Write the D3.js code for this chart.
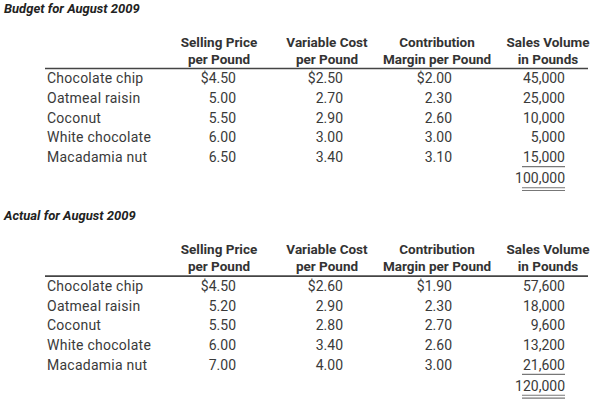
<!DOCTYPE html>
<html>
<head>
<meta charset="utf-8">
<script src="https://cdn.jsdelivr.net/npm/d3@7"></script>
<style>
  body { margin: 0; background: #fff; }
  text { font-family: Roboto, "Liberation Sans", sans-serif; }
</style>
</head>
<body>
<script>
// cookie products, same for both tables
const products = ["Chocolate chip", "Oatmeal raisin", "Coconut", "White chocolate", "Macadamia nut"];
const columns = ["price", "cost", "margin", "volume"];
const headers = [["Selling Price", "per Pound"], ["Variable Cost", "per Pound"],
                 ["Contribution", "Margin per Pound"], ["Sales Volume", "in Pounds"]];

// budget for August 2009
const budgetPrice  = [4.50, 5.00, 5.50, 6.00, 6.50];
const budgetCost   = [2.50, 2.70, 2.90, 3.00, 3.40];
const budgetMargin = [2.00, 2.30, 2.60, 3.00, 3.10];
const budgetVolume = [45000, 25000, 10000, 5000, 15000];
const budgetTotal  = 100000;

// actual for August 2009
const actualPrice  = [4.50, 5.20, 5.50, 6.00, 7.00];
const actualCost   = [2.60, 2.90, 2.80, 3.40, 4.00];
const actualMargin = [1.90, 2.30, 2.70, 2.60, 3.00];
const actualVolume = [57600, 18000, 9600, 13200, 21600];
const actualTotal  = 120000;

const svg = d3.select("body").append("svg")
    .attr("width", 594)
    .attr("height", 404);

// right edge of each number column, and centre of each header
const xRight  = d3.scaleOrdinal().domain(columns).range([236, 343, 452, 565]);
const xCenter = d3.scaleOrdinal().domain(columns).range([219, 327, 437, 548]);
const y = d3.scalePoint().domain(products).range([0, 79]);

const money = d3.format(".2f");
const vol = d3.format(",");

function drawTable(top, title, price, cost, margin, volume, total) {
  const g = svg.append("g").attr("transform", `translate(0,${top})`);

  g.append("text")
    .attr("x", 4).attr("y", 0)
    .attr("font-size", 13).attr("font-weight", "bold").attr("font-style", "italic")
    .attr("fill", "#222")
    .text(title);

  // two-line column headers
  const head = g.append("g").selectAll("text")
    .data(columns)
    .enter().append("text")
    .attr("x", d => xCenter(d))
    .attr("text-anchor", "middle")
    .attr("font-size", 13.5).attr("font-weight", "bold")
    .attr("fill", "#333");
  head.append("tspan").attr("x", d => xCenter(d)).attr("y", 34).text((d, i) => headers[i][0]);
  head.append("tspan").attr("x", d => xCenter(d)).attr("y", 51).text((d, i) => headers[i][1]);

  g.append("line")
    .attr("x1", 45).attr("x2", 588)
    .attr("y1", 55.8).attr("y2", 55.8)
    .attr("stroke", "#444").attr("stroke-width", 1.6);

  const body = g.append("g").attr("transform", "translate(0,70.5)");

  body.selectAll("text.label")
    .data(products)
    .enter().append("text")
    .attr("class", "label")
    .attr("x", 47).attr("y", d => y(d))
    .attr("font-size", 14).attr("letter-spacing", 0.25)
    .attr("fill", "#3a3a3a")
    .text(d => d);

  const series = { price: price, cost: cost, margin: margin, volume: volume };
  columns.forEach(c => {
    body.selectAll("text." + c)
      .data(series[c])
      .enter().append("text")
      .attr("class", c)
      .attr("x", xRight(c))
      .attr("y", (d, i) => y(products[i]))
      .attr("text-anchor", "end")
      .attr("font-size", 14)
      .attr("fill", "#3a3a3a")
      .text((d, i) => c === "volume" ? vol(d) : (i === 0 ? "$" : "") + money(d));
  });

  // total line and double underline
  const last = y(products[products.length - 1]);
  body.append("line")
    .attr("x1", 522).attr("x2", xRight("volume"))
    .attr("y1", last + 4.5).attr("y2", last + 4.5)
    .attr("stroke", "#777").attr("stroke-width", 1.2);
  body.append("text")
    .attr("x", xRight("volume")).attr("y", last + 21)
    .attr("text-anchor", "end")
    .attr("font-size", 14)
    .attr("fill", "#3a3a3a")
    .text(vol(total));
  [last + 25.5, last + 28.3].forEach(yy => {
    body.append("line")
      .attr("x1", 522).attr("x2", xRight("volume"))
      .attr("y1", yy).attr("y2", yy)
      .attr("stroke", "#777").attr("stroke-width", 1.1);
  });
}

drawTable(12.7, "Budget for August 2009", budgetPrice, budgetCost, budgetMargin, budgetVolume, budgetTotal);
drawTable(220.3, "Actual for August 2009", actualPrice, actualCost, actualMargin, actualVolume, actualTotal);
</script>
</body>
</html>
